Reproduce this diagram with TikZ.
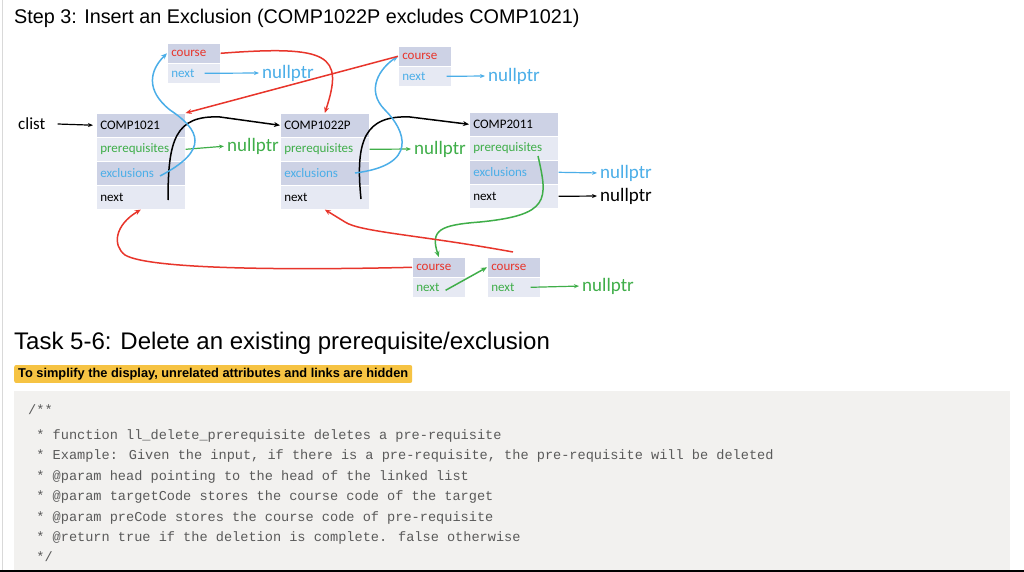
\documentclass[tikz,border=0pt]{standalone}
\usepackage{fontspec}
\setmainfont{Liberation Sans}
\newfontfamily\calfont{Carlito}
\newfontfamily\monofont{Liberation Mono}
\usetikzlibrary{arrows.meta}
\definecolor{hd}{HTML}{CDD2E5}
\definecolor{lt}{HTML}{E6E9F3}
\definecolor{rd}{HTML}{E8352B}
\definecolor{bl}{HTML}{4BAEE8}
\definecolor{gn}{HTML}{3FAE49}
\definecolor{yl}{HTML}{F6C343}
\definecolor{cb}{HTML}{F2F1EF}
\definecolor{ct}{HTML}{5A5A5A}
\begin{document}
\begin{tikzpicture}[x=1pt,y=-1pt,
 cell/.style={draw=white,line width=0.6pt,anchor=north west,minimum height=24pt,inner sep=0pt,inner xsep=4pt,text width=81pt,align=left,font=\calfont\fontsize{13}{14}\selectfont},
 cellb/.style={cell,minimum height=20pt,text width=45pt},
 dk/.style={fill=hd},lg/.style={fill=lt},
 np/.style={font=\calfont\fontsize{19}{20}\selectfont,anchor=west,inner sep=0pt},
 ar/.style={-{Stealth[length=5pt,width=4pt]},line width=1.2pt,shorten >=3pt},
 cur/.style={-{Stealth[length=6pt,width=5pt]},line width=1.5pt}]
\useasboundingbox (0,0) rectangle (1024,572);
\fill[white] (0,0) rectangle (1024,572);
\draw[black!15,line width=1pt] (2,0) -- (2,572);
\node[anchor=west,font=\fontsize{19.8}{22}\selectfont,inner sep=0pt] (t1) at (14,18) {Step 3: Insert an Exclusion (COMP1022P excludes COMP1021)};
% big nodes
\foreach \n/\x/\y/\c in {a/96/113/COMP1021,b/280/113/COMP1022P,c/469/112/COMP2011}{
 \node[cell,dk] (\n h) at (\x,\y) {\c};
 \node[cell,lg,text=gn] (\n p) at (\x,\y+24) {prerequisites};
 \node[cell,dk,text=bl] (\n e) at (\x,\y+48) {exclusions};
 \node[cell,lg] (\n n) at (\x,\y+72) {next};
}
% small nodes
\foreach \n/\x/\y/\k in {s/167/43/bl,u/398/46/bl,v/412/257/gn,w/487/257/gn}{
 \node[cellb,dk,text=rd] (\n c) at (\x,\y) {course};
 \node[cellb,lg,text=\k] (\n n) at (\x,\y+20) {next};
}
\node[anchor=west,font=\calfont\fontsize{17}{18}\selectfont,inner sep=0pt] (cl) at (18,124) {clist};
\draw[ar] (cl.east)++(12,0) coordinate(cl0) -- (ah.west);
% nullptrs
\node[np,text=bl] (n1) at (262,73) {nullptr};
\draw[ar,bl] (sn.east)++(-16,0) -- (n1.west);
\node[np,text=bl] (n2) at (488,76) {nullptr};
\draw[ar,bl] (un.east)++(-5,0) -- (n2.west);
\node[np,text=gn] (n3) at (227,146) {nullptr};
\draw[ar,gn] (ap.east) -- (n3.west);
\node[np,text=gn] (n4) at (414,149) {nullptr};
\draw[ar,gn] (bp.east) -- (n4.west);
\node[np,text=bl] (n5) at (600,173) {nullptr};
\draw[ar,bl] (ce.east) -- (n5.west);
\node[np] (n6) at (600,196) {nullptr};
\draw[ar] (cn.east) -- (n6.west);
\node[np,text=gn] (n7) at (582,286) {nullptr};
\draw[ar,gn] (wn.east)++(-10,0) -- (n7.west);
% curves
\coordinate (k1) at (168,200); \coordinate (k2) at (361,199);
\draw[cur] (k1) .. controls (168,140) and (175,115) .. (220,117) -- (bh.west);
\draw[cur] (k2) .. controls (355,140) and (365,115) .. (410,117) -- (ch.west);
\coordinate (e1) at (160,176); \coordinate (e2) at (355,173);
\draw[cur,bl] (e1) .. controls (210,150) and (200,130) .. (170,110) .. controls (145,90) and (150,70) .. (sc.west);
\draw[cur,bl] (e2) .. controls (420,165) and (405,130) .. (385,110) .. controls (365,90) and (380,68) .. (uc.west);
\draw[cur,rd] (sc.east) .. controls (330,45) and (344,55) .. (bh.north);
\draw[cur,rd] (uc.west) -- (ah.north east);
\coordinate (g1) at (538,156);
\draw[cur,gn] (g1) .. controls (548,200) and (550,215) .. (480,222) .. controls (440,225) and (430,230) .. (vc.north);
\draw[cur,gn] (vn.east)++(-20,3) -- (wc.west);
\coordinate (r1) at (513,252);
\draw[cur,rd] (r1) .. controls (420,235) and (360,232) .. (345,222) -- (bn.south);
\draw[cur,rd] (vc.west) .. controls (300,270) and (150,270) .. (125,255) .. controls (112,245) and (115,225) .. (an.south);
% lower part
\node[anchor=west,font=\fontsize{24}{28}\selectfont,inner sep=0pt] (t2) at (14,343) {Task 5-6: Delete an existing prerequisite/exclusion};
\node[anchor=west,fill=yl,rounded corners=2pt,font=\bfseries\fontsize{12.8}{14}\selectfont,inner xsep=4pt,inner ysep=3pt] (bd) at (14,374) {To simplify the display, unrelated attributes and links are hidden};
\fill[cb] (14,391) rectangle (1010,570);
\draw[black,line width=1.5pt] (0,571) -- (1024,571);
\begin{scope}[every node/.style={anchor=base west,inner sep=0pt,text=ct,font=\monofont\fontsize{13.6}{15}\selectfont}]
\node (c0) at (28,414) {/**};
\node (c1) at (28,439) {~* function ll\_delete\_prerequisite deletes a pre-requisite};
\node (c2) at (28,459) {~* Example: Given the input, if there is a pre-requisite, the pre-requisite will be deleted};
\node (c3) at (28,480) {~* @param head pointing to the head of the linked list};
\node (c4) at (28,500) {~* @param targetCode stores the course code of the target};
\node (c5) at (28,521) {~* @param preCode stores the course code of pre-requisite};
\node (c6) at (28,541) {~* @return true if the deletion is complete. false otherwise};
\node (c7) at (28,561) {~*/};
\end{scope}
\end{tikzpicture}
\end{document}
